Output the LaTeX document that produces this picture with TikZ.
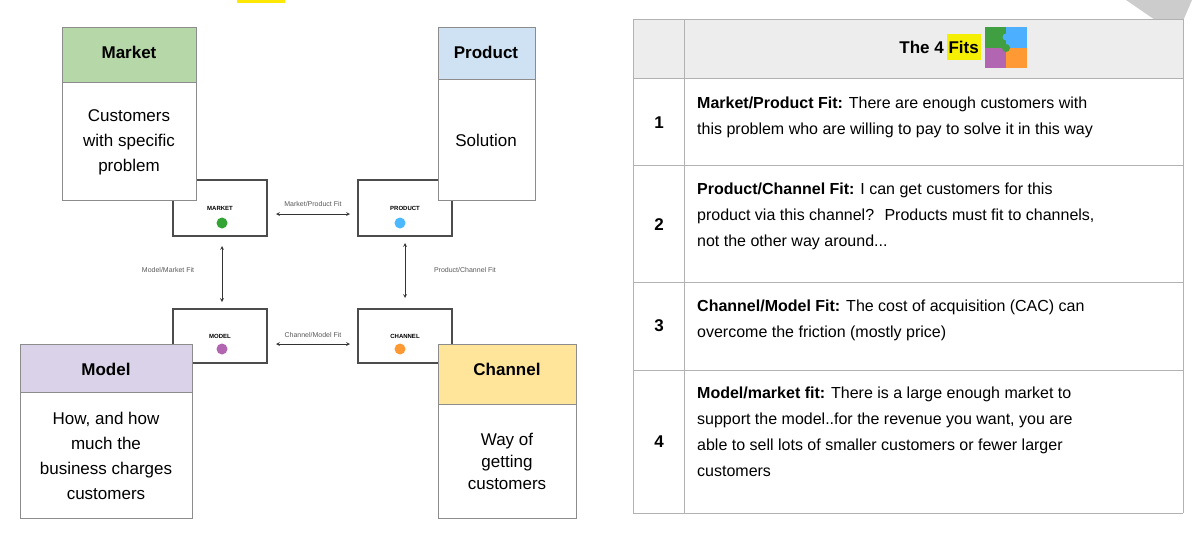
\documentclass[tikz,border=0pt]{standalone}
\usepackage{fontspec}
\setmainfont{Liberation Sans}
\definecolor{gH}{HTML}{B6D7A8}
\definecolor{bH}{HTML}{CFE2F3}
\definecolor{vH}{HTML}{D9D2E9}
\definecolor{yH}{HTML}{FFE599}
\begin{document}
\begin{tikzpicture}[x=1pt,y=-1pt,
  box/.style={draw=black!45,line width=0.8pt},
  hd/.style={font=\fontsize{17}{20}\selectfont\bfseries},
  bd/.style={font=\fontsize{17}{25}\selectfont,align=center},
  scr/.style={draw=black!70,line width=1.8pt,fill=white},
  scl/.style={font=\fontsize{6}{7}\selectfont\bfseries},
  fl/.style={font=\fontsize{7}{8}\selectfont,text=black!65},
  ar/.style={<->,>=stealth,line width=0.7pt,black!80},
  tl/.style={draw=black!30,line width=1pt},
  tx/.style={font=\fontsize{16}{26}\selectfont,align=left,anchor=west,inner sep=0pt},
  nm/.style={font=\fontsize{17}{20}\selectfont\bfseries}]
\useasboundingbox (0,0) rectangle (1200,552);
\fill[yellow!90!orange] (237,0) rectangle (285,3);
\fill[black!20] (1126,0) -- (1192,0) -- (1177,35) -- cycle;
% screens
\node[scr,minimum width=94pt,minimum height=56pt] (sMK) at (220,208) {};
\node[scr,minimum width=94pt,minimum height=56pt] (sPR) at (405,208) {};
\node[scr,minimum width=94pt,minimum height=54pt] (sMO) at (220,336) {};
\node[scr,minimum width=94pt,minimum height=54pt] (sCH) at (405,336) {};
\node[scl] at (220,208) {MARKET};
\node[scl] at (405,208) {PRODUCT};
\node[scl] at (220,336) {MODEL};
\node[scl] at (405,336) {CHANNEL};
\fill[green!55!black!80] (222,223) circle (5.5);
\fill[blue!40!cyan!70] (400,223) circle (5.5);
\fill[violet!60] (222,349) circle (5.5);
\fill[orange!80] (400,349) circle (5.5);
\coordinate (a1) at (276,214); \coordinate (a2) at (350,214);
\coordinate (b1) at (222,246); \coordinate (b2) at (222,302);
\coordinate (c1) at (405,243); \coordinate (c2) at (405,298);
\coordinate (d1) at (276,344); \coordinate (d2) at (350,344);
\draw[ar] (a1) -- (a2); \draw[ar] (b1) -- (b2);
\draw[ar] (c1) -- (c2); \draw[ar] (d1) -- (d2);
\node[fl] (l1) at (313,204) {Market/Product Fit};
\node[fl] (l2) at (168,270) {Model/Market Fit};
\node[fl] (l3) at (465,270) {Product/Channel Fit};
\node[fl] (l4) at (313,335) {Channel/Model Fit};
% big boxes
\draw[box,fill=gH] (62,27) rectangle (196,82);
\draw[box,fill=white] (62,82) rectangle (196,200);
\node[hd] (mk) at (129,52) {Market};
\node[bd] (mkb) at (129,142) {Customers\\with specific\\problem};
\draw[box,fill=bH] (438,27) rectangle (535,79);
\draw[box,fill=white] (438,79) rectangle (535,200);
\node[hd] (pr) at (486,52) {Product};
\node[bd] (prb) at (486,140) {Solution};
\draw[box,fill=vH] (20,344) rectangle (192,392);
\draw[box,fill=white] (20,392) rectangle (192,518);
\node[hd] (mo) at (106,369) {Model};
\node[bd] (mob) at (106,456) {How, and how\\much the\\business charges\\customers};
\draw[box,fill=yH] (438,344) rectangle (576,404);
\draw[box,fill=white] (438,404) rectangle (576,518);
\node[hd] (ch) at (507,369) {Channel};
\node[bd,font=\fontsize{17}{22}\selectfont] (chb) at (507,461) {Way of\\getting\\customers};
% table
\fill[black!7] (633,19) rectangle (1183,78);
\foreach \y in {19,78,165,282,370,513} \draw[tl] (633,\y) -- (1183,\y);
\foreach \x in {633,684,1183} \draw[tl] (\x,19) -- (\x,513);
\fill[yellow!85!lime] (947,34) rectangle (981,60);
\node[font=\fontsize{17}{20}\selectfont\bfseries,anchor=east,inner sep=1pt] (t4) at (980,47) {The 4 Fits};
\begin{scope}[shift={(985,27)}]
\fill[green!50!black!75] (0,0) rectangle (21,21);
\fill[blue!45!cyan!70] (21,0) rectangle (42,21);
\fill[violet!60] (0,21) rectangle (21,41);
\fill[orange!80] (21,21) rectangle (42,41);
\fill[green!50!black!75] (21,21) circle (4);
\fill[blue!45!cyan!70] (21,10) circle (3.5);
\end{scope}
\node[nm] (n1) at (659,123) {1};
\node[nm] (n2) at (659,225) {2};
\node[nm] (n3) at (659,326) {3};
\node[nm] (n4) at (659,442) {4};
\node[tx] (r1) at (697,117) {\textbf{Market/Product Fit:} There are enough customers with\\this problem who are willing to pay to solve it in this way};
\node[tx] (r2) at (697,216) {\textbf{Product/Channel Fit:} I can get customers for this\\product via this channel?~ Products must fit to channels,\\not the other way around...};
\node[tx] (r3) at (697,320) {\textbf{Channel/Model Fit:} The cost of acquisition (CAC) can\\overcome the friction (mostly price)};
\node[tx] (r4) at (697,432) {\textbf{Model/market fit:} There is a large enough market to\\support the model..for the revenue you want, you are\\able to sell lots of smaller customers or fewer larger\\customers};
\end{tikzpicture}
\end{document}
